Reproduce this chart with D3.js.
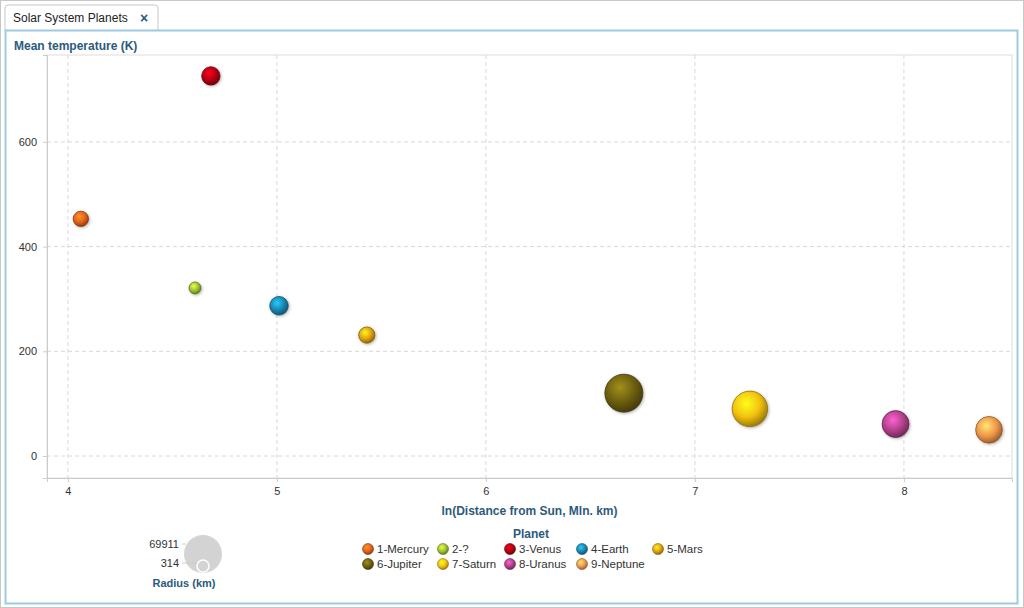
<!DOCTYPE html>
<html><head><meta charset="utf-8">
<script src="https://cdn.jsdelivr.net/npm/d3@7"></script>
<style>body{margin:0;background:#fff;font-family:"Liberation Sans",Arial,sans-serif}</style>
</head><body>
<svg id="c" width="1024" height="608"></svg>
<script>
var planets = ["1-Mercury","2-?","3-Venus","4-Earth","5-Mars","6-Jupiter","7-Saturn","8-Uranus","9-Neptune"];
var lnDistance = [4.062, 4.608, 4.684, 5.01, 5.43, 6.66, 7.263, 7.96, 8.407];
var meanTemp = [453, 321, 726, 287, 231, 120, 90, 61, 50];
var radiusKm = [2440, 314, 6052, 6371, 3390, 69911, 58232, 25362, 24622];
var colors = ["#e0621a","#9ac030","#b00010","#1a85b0","#e0a010","#6b5e10","#f0c010","#b0408a","#f0964a"];
var xTicks = [4,5,6,7,8];
var yTicks = [0,200,400,600];

var svg = d3.select("#c");
var blue = "#2c5a7c";

// frame
svg.append("rect").attr("x",0.5).attr("y",0.5).attr("width",1023).attr("height",607).attr("fill","#fff").attr("stroke","#c8c8c8");
svg.append("path").attr("d","M5,30 V8 a3,3 0 0 1 3,-3 H155 a3,3 0 0 1 3,3 V30").attr("fill","#fff").attr("stroke","#c8c8c8");
svg.append("text").attr("x",13).attr("y",22).attr("font-size",12).attr("fill","#222").text("Solar System Planets");
svg.append("text").attr("x",140).attr("y",23).attr("font-size",14).attr("font-weight","bold").attr("fill",blue).text("×");
svg.append("rect").attr("x",5.5).attr("y",30.5).attr("width",1012).attr("height",573).attr("fill","#fff").attr("stroke","#9ecbe0").attr("stroke-width",2);
svg.append("text").attr("x",14).attr("y",50).attr("font-size",12).attr("font-weight","bold").attr("fill",blue).text("Mean temperature (K)");

var L = 47, R = 1012, T = 55, B = 478;
var x = d3.scaleLinear().domain([3.9, 8.517]).range([L, R]);
var y = d3.scaleLinear().domain([-42, 766]).range([B, T]);
var sq = d3.scaleLinear().domain([Math.sqrt(314), Math.sqrt(69911)]).range([6, 19]);
var r = function(v){ return sq(Math.sqrt(v)); };

svg.append("rect").attr("x",L).attr("y",T).attr("width",R-L).attr("height",B-T).attr("fill","none").attr("stroke","#ddd");
var grid = svg.append("g").attr("stroke","#d8d8d8").attr("stroke-dasharray","4,3");
xTicks.forEach(function(t){ grid.append("line").attr("x1",x(t)).attr("x2",x(t)).attr("y1",T).attr("y2",B); });
yTicks.forEach(function(t){ grid.append("line").attr("x1",L).attr("x2",R).attr("y1",y(t)).attr("y2",y(t)); });

var xa = svg.append("g").attr("transform","translate(0,"+B+")").call(d3.axisBottom(x).tickValues(xTicks).tickSize(4).tickFormat(d3.format("d")));
var ya = svg.append("g").attr("transform","translate("+L+",0)").call(d3.axisLeft(y).tickValues(yTicks).tickSize(4).tickFormat(d3.format("d")));
[xa,ya].forEach(function(a){
  a.select(".domain").attr("stroke","#ccc");
  a.selectAll(".tick line").attr("stroke","#ccc");
  a.selectAll("text").attr("font-size",11).attr("fill","#333").attr("font-family","Liberation Sans, Arial");
});
ya.selectAll("text").attr("x",-10);
xa.selectAll("text").attr("y",9);
svg.append("text").attr("x",(L+R)/2).attr("y",515).attr("text-anchor","middle").attr("font-size",12).attr("font-weight","bold").attr("fill",blue).text("ln(Distance from Sun, Mln. km)");

// gradients
var defs = svg.append("defs");
colors.forEach(function(c,i){
  var g = defs.append("radialGradient").attr("id","g"+i).attr("cx","40%").attr("cy","35%").attr("r","65%");
  g.append("stop").attr("offset","0%").attr("stop-color",d3.color(c).brighter(1.2));
  g.append("stop").attr("offset","60%").attr("stop-color",c);
  g.append("stop").attr("offset","100%").attr("stop-color",d3.color(c).darker(1.2));
});
var f = defs.append("filter").attr("id","sh").attr("x","-50%").attr("y","-50%").attr("width","200%").attr("height","200%");
f.append("feDropShadow").attr("dx",1).attr("dy",1).attr("stdDeviation",1.5).attr("flood-opacity",0.3);

var order = d3.range(planets.length);
svg.append("g").selectAll("circle").data(order).join("circle")
  .attr("cx",function(i){return x(lnDistance[i]);})
  .attr("cy",function(i){return y(meanTemp[i]);})
  .attr("r",function(i){return r(radiusKm[i]);})
  .attr("fill",function(i){return "url(#g"+i+")";})
  .attr("stroke",function(i){return d3.color(colors[i]).darker(1.5);}).attr("stroke-width",0.8)
  .attr("filter","url(#sh)");

// size legend
var big = r(69911), small = r(314), cx0 = 203, base = 573;
svg.append("circle").attr("cx",cx0).attr("cy",base-big).attr("r",big).attr("fill","#d3d3d3");
svg.append("circle").attr("cx",cx0).attr("cy",base-small-1).attr("r",small).attr("fill","none").attr("stroke","#fff").attr("stroke-width",1.5);
svg.append("line").attr("x1",182).attr("x2",cx0-small).attr("y1",563).attr("y2",563).attr("stroke","#ccc");
svg.append("line").attr("x1",182).attr("x2",186).attr("y1",544).attr("y2",544).attr("stroke","#ccc");
svg.append("text").attr("x",179).attr("y",548).attr("text-anchor","end").attr("font-size",11).attr("fill","#333").text("69911");
svg.append("text").attr("x",179).attr("y",567).attr("text-anchor","end").attr("font-size",11).attr("fill","#333").text("314");
svg.append("text").attr("x",184).attr("y",587).attr("text-anchor","middle").attr("font-size",11).attr("font-weight","bold").attr("fill",blue).text("Radius (km)");

// color legend
svg.append("text").attr("x",531).attr("y",538).attr("text-anchor","middle").attr("font-size",12).attr("font-weight","bold").attr("fill",blue).text("Planet");
var colX = [368, 443, 510, 582, 658];
var lg = svg.append("g").selectAll("g").data(order).join("g")
  .attr("transform",function(i){return "translate("+colX[i%5]+","+(549+Math.floor(i/5)*15)+")";});
lg.append("circle").attr("r",5.5).attr("fill",function(i){return "url(#g"+i+")";})
  .attr("stroke",function(i){return d3.color(colors[i]).darker(1.5);}).attr("stroke-width",0.6);
lg.append("text").attr("x",9).attr("y",4).attr("font-size",11.5).attr("fill","#333").text(function(i){return planets[i];});
</script>
</body></html>
